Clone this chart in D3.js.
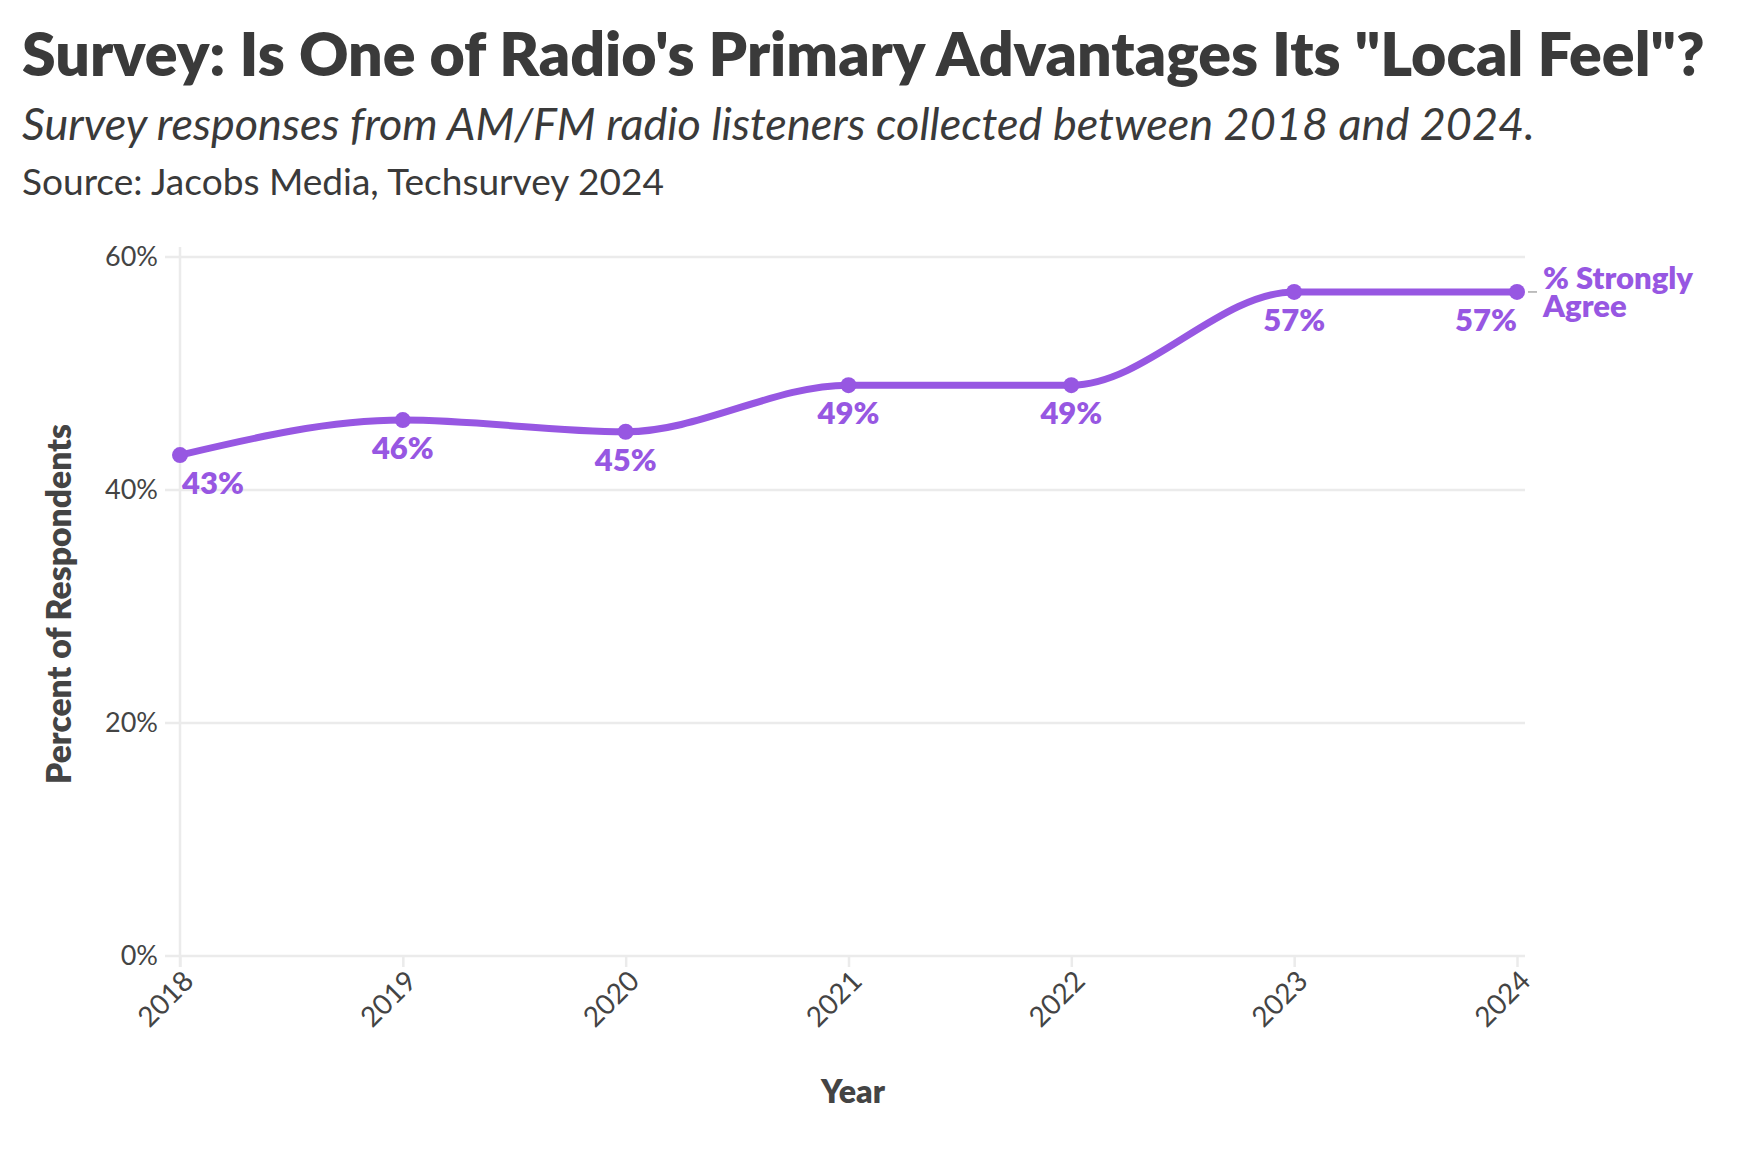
<!DOCTYPE html>
<html>
<head>
<meta charset="utf-8">
<script src="https://cdn.jsdelivr.net/npm/d3@7"></script>
<style>
  body { margin: 0; background: #fff; }
  text { font-family: Lato, "Noto Sans", sans-serif; }
</style>
</head>
<body>
<div id="chart"></div>
<script>
var years = [2018, 2019, 2020, 2021, 2022, 2023, 2024];
var stronglyAgree = [43, 46, 45, 49, 49, 57, 57];
var yTicks = [0, 20, 40, 60];
var seriesName = ['% Strongly', 'Agree'];

var W = 1744, H = 1150;
var purple = '#9757e2', ink = '#3a3a3a', grid = '#ebebeb';

var svg = d3.select('#chart').append('svg')
    .attr('width', W).attr('height', H);

// size a text so it spans roughly the same width as in the reference
var fitText = function(sel, width) {
    var fs = +sel.attr('font-size');
    var w = sel.node().getComputedTextLength();
    sel.attr('font-size', fs * width / w);
}

// titles
fitText(svg.append('text').attr('x', 22).attr('y', 76)
    .attr('font-size', 54).attr('font-weight', 800).attr('fill', ink)
    .text('Survey: Is One of Radio\'s Primary Advantages Its "Local Feel"?'), 1683);
fitText(svg.append('text').attr('x', 22).attr('y', 140)
    .attr('font-size', 37).attr('font-style', 'italic').attr('fill', ink)
    .text('Survey responses from AM/FM radio listeners collected between 2018 and 2024.'), 1513);
fitText(svg.append('text').attr('x', 22).attr('y', 195)
    .attr('font-size', 31).attr('fill', ink)
    .text('Source: Jacobs Media, Techsurvey 2024'), 642);

var x = d3.scaleLinear().domain([2018, 2024]).range([180, 1517]);
var y = d3.scaleLinear().domain([0, 60]).range([956, 257]);

// grid
svg.append('g').selectAll('line').data(yTicks).join('line')
    .attr('x1', 165).attr('x2', 1525)
    .attr('y1', function(d) { return y(d) }).attr('y2', function(d) { return y(d) })
    .attr('stroke', grid).attr('stroke-width', 2.5);
svg.append('line').attr('x1', 180).attr('x2', 180).attr('y1', 247).attr('y2', 967)
    .attr('stroke', grid).attr('stroke-width', 2.5);

// y axis labels
var yAxis = svg.append('g').attr('transform', 'translate(164,0)')
    .call(d3.axisLeft(y).tickValues(yTicks).tickSize(0).tickPadding(6)
        .tickFormat(function(d) { return d + '%' }));
yAxis.select('.domain').remove();
yAxis.selectAll('text').attr('font-size', 27).attr('fill', '#444')
    .style('font-family', 'Lato, sans-serif');

// x axis
var xAxis = svg.append('g').attr('transform', 'translate(0,956)')
    .call(d3.axisBottom(x).tickValues(years).tickSize(11).tickFormat(d3.format('d')));
xAxis.select('.domain').remove();
xAxis.selectAll('line').attr('stroke', grid).attr('stroke-width', 2.5);
xAxis.selectAll('text')
    .attr('font-size', 28).attr('fill', '#444').style('font-family', 'Lato, sans-serif')
    .attr('text-anchor', 'end').attr('dy', '0.35em')
    .attr('transform', 'translate(-2,10) rotate(-45) ');

// axis titles
fitText(svg.append('text').attr('x', 853).attr('y', 1103).attr('text-anchor', 'middle')
    .attr('font-size', 30).attr('font-weight', 800).attr('fill', '#444').text('Year'), 64);
fitText(svg.append('text').attr('transform', 'translate(71,604) rotate(-90)').attr('text-anchor', 'middle')
    .attr('font-size', 30).attr('font-weight', 800).attr('fill', '#444').text('Percent of Respondents'), 360);

// line
var pts = years.map(function(yr, i) { return [yr, stronglyAgree[i]] });
svg.append('path').datum(pts)
    .attr('d', d3.line().curve(d3.curveMonotoneX)
        .x(function(d) { return x(d[0]) }).y(function(d) { return y(d[1]) }))
    .attr('fill', 'none').attr('stroke', purple).attr('stroke-width', 7);

svg.append('g').selectAll('circle').data(pts).join('circle')
    .attr('cx', function(d) { return x(d[0]) }).attr('cy', function(d) { return y(d[1]) })
    .attr('r', 8).attr('fill', purple);

var n = pts.length;
svg.append('g').selectAll('text').data(pts).join('text')
    .attr('x', function(d, i) { return x(d[0]) + (i == 0 ? 2 : 0) })
    .attr('y', function(d) { return y(d[1]) + 39 })
    .attr('text-anchor', function(d, i) { return i == 0 ? 'start' : (i == n - 1 ? 'end' : 'middle') })
    .attr('font-size', 31).attr('font-weight', 800).attr('fill', purple)
    .text(function(d) { return d[1] + '%' });

// series label
var last = pts[n - 1];
svg.append('line').attr('x1', x(last[0]) + 11).attr('x2', x(last[0]) + 20)
    .attr('y1', y(last[1])).attr('y2', y(last[1]))
    .attr('stroke', '#aaa').attr('stroke-width', 1.5);
svg.append('text').attr('x', 1543).attr('y', y(last[1]) - 3)
    .attr('font-size', 31).attr('font-weight', 800).attr('fill', purple)
    .selectAll('tspan').data(seriesName).join('tspan')
    .attr('x', 1543).attr('dy', function(d, i) { return i == 0 ? 0 : 28 })
    .text(function(d) { return d });
</script>
</body>
</html>
